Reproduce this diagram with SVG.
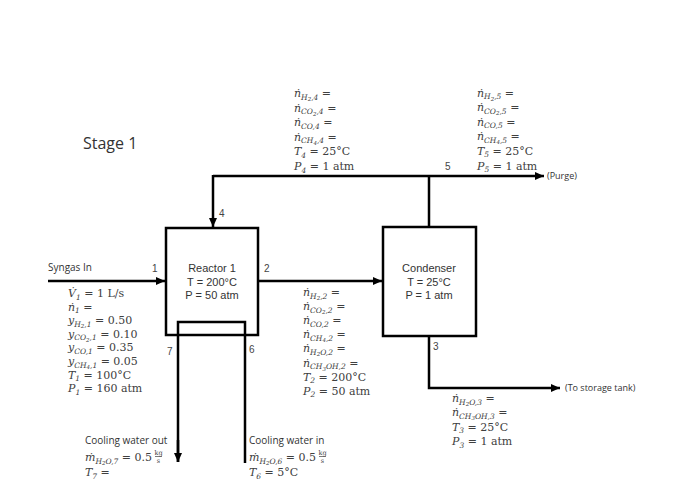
<svg xmlns="http://www.w3.org/2000/svg" width="696" height="499" viewBox="0 0 696 499">
<defs>
<style>
.ln{fill:none;stroke:#000;stroke-width:2.5}
.box{fill:#fff;stroke:#000;stroke-width:2.5}
.lbl{font-family:"Open Sans","Liberation Sans",sans-serif;font-size:10px;fill:#333}
.num{font-family:"Liberation Sans",sans-serif;font-size:10px;fill:#444}
.nt{font-family:"Liberation Sans",sans-serif;font-size:11px;fill:#333;text-anchor:middle}
.m{font-family:"DejaVu Serif",serif;font-size:11px;fill:#404040}
.i{font-style:italic}
.s{font-size:7.5px;font-style:italic}
.ss{font-size:5.5px;font-style:italic}
.fr{font-family:"DejaVu Serif",serif;font-size:6.5px;fill:#404040;text-anchor:middle}
.bar{stroke:#404040;stroke-width:0.7}
</style>
<marker id="ah" markerWidth="9" markerHeight="8" refX="9" refY="4" orient="auto" markerUnits="userSpaceOnUse">
<path d="M0,0 L9,4 L0,8 z" fill="#000"/>
</marker>
</defs>
<rect width="696" height="499" fill="#fff"/>

<text class="lbl" x="83" y="149" style="font-size:16px">Stage 1</text>

<g id="connectors">
<path class="ln" d="M48 281 H165" marker-end="url(#ah)"/>
<path class="ln" d="M258 281 H382" marker-end="url(#ah)"/>
<path class="ln" d="M213 176 H544" marker-end="url(#ah)"/>
<path class="ln" d="M213 175 V227" marker-end="url(#ah)"/>
<path class="ln" d="M429 176 V227"/>
<path class="ln" d="M429 336 V388 H560" marker-end="url(#ah)"/>
<path class="ln" d="M178 462 V322 H245 V463" />
<path class="ln" d="M178 440 V462" marker-end="url(#ah)"/>
<text class="num" x="152" y="272">1</text>
<text class="num" x="264" y="272">2</text>
<text class="num" x="219" y="217">4</text>
<text class="num" x="445" y="170">5</text>
<text class="num" x="433" y="350">3</text>
<text class="num" x="167" y="355">7</text>
<text class="num" x="249" y="353">6</text>
<text class="lbl" x="48" y="271">Syngas In</text>
<text class="lbl" x="547" y="179" style="font-size:9px">(Purge)</text>
<text class="lbl" x="565" y="391" style="font-size:9px">(To storage tank)</text>
</g>

<g id="reactor">
<rect class="box" x="166" y="228" width="92" height="107"/>
<path class="ln" d="M178 335 V322 H245 V335"/>
<text class="nt" x="212" y="272">Reactor 1</text>
<text class="nt" x="212" y="286">T = 200°C</text>
<text class="nt" x="212" y="299">P = 50 atm</text>
</g>

<g id="condenser">
<rect class="box" x="383" y="227" width="93" height="109"/>
<text class="nt" x="429" y="272">Condenser</text>
<text class="nt" x="429" y="286">T = 25°C</text>
<text class="nt" x="429" y="299">P = 1 atm</text>
</g>

<g id="stream4">
<text class="m" x="294" y="97"><tspan class="i">ṅ</tspan><tspan class="s" dy="2.5">H</tspan><tspan class="ss" dy="1.5">2</tspan><tspan class="s" dy="-1.5">,4</tspan><tspan dy="-2.5"> =</tspan></text>
<text class="m" x="294" y="111.6"><tspan class="i">ṅ</tspan><tspan class="s" dy="2.5">CO</tspan><tspan class="ss" dy="1.5">2</tspan><tspan class="s" dy="-1.5">,4</tspan><tspan dy="-2.5"> =</tspan></text>
<text class="m" x="294" y="126.2"><tspan class="i">ṅ</tspan><tspan class="s" dy="2.5">CO,4</tspan><tspan dy="-2.5"> =</tspan></text>
<text class="m" x="294" y="140.8"><tspan class="i">ṅ</tspan><tspan class="s" dy="2.5">CH</tspan><tspan class="ss" dy="1.5">4</tspan><tspan class="s" dy="-1.5">,4</tspan><tspan dy="-2.5"> =</tspan></text>
<text class="m" x="294" y="155.4"><tspan class="i">T</tspan><tspan class="s" dy="2.5">4</tspan><tspan dy="-2.5"> = 25°C</tspan></text>
<text class="m" x="294" y="170"><tspan class="i">P</tspan><tspan class="s" dy="2.5">4</tspan><tspan dy="-2.5"> = 1 atm</tspan></text>
</g>

<g id="stream5">
<text class="m" x="477" y="96.5"><tspan class="i">ṅ</tspan><tspan class="s" dy="2.5">H</tspan><tspan class="ss" dy="1.5">2</tspan><tspan class="s" dy="-1.5">,5</tspan><tspan dy="-2.5"> =</tspan></text>
<text class="m" x="477" y="111.1"><tspan class="i">ṅ</tspan><tspan class="s" dy="2.5">CO</tspan><tspan class="ss" dy="1.5">2</tspan><tspan class="s" dy="-1.5">,5</tspan><tspan dy="-2.5"> =</tspan></text>
<text class="m" x="477" y="125.7"><tspan class="i">ṅ</tspan><tspan class="s" dy="2.5">CO,5</tspan><tspan dy="-2.5"> =</tspan></text>
<text class="m" x="477" y="140.3"><tspan class="i">ṅ</tspan><tspan class="s" dy="2.5">CH</tspan><tspan class="ss" dy="1.5">4</tspan><tspan class="s" dy="-1.5">,5</tspan><tspan dy="-2.5"> =</tspan></text>
<text class="m" x="477" y="154.9"><tspan class="i">T</tspan><tspan class="s" dy="2.5">5</tspan><tspan dy="-2.5"> = 25°C</tspan></text>
<text class="m" x="477" y="169.5"><tspan class="i">P</tspan><tspan class="s" dy="2.5">5</tspan><tspan dy="-2.5"> = 1 atm</tspan></text>
</g>

<g id="stream1">
<text class="m" x="68" y="297"><tspan class="i">V̇</tspan><tspan class="s" dy="2.5">1</tspan><tspan dy="-2.5"> = 1 L/s</tspan></text>
<text class="m" x="68" y="310.6"><tspan class="i">ṅ</tspan><tspan class="s" dy="2.5">1</tspan><tspan dy="-2.5"> =</tspan></text>
<text class="m" x="68" y="324.2"><tspan class="i">y</tspan><tspan class="s" dy="2.5">H</tspan><tspan class="ss" dy="1.5">2</tspan><tspan class="s" dy="-1.5">,1</tspan><tspan dy="-2.5"> = 0.50</tspan></text>
<text class="m" x="68" y="337.8"><tspan class="i">y</tspan><tspan class="s" dy="2.5">CO</tspan><tspan class="ss" dy="1.5">2</tspan><tspan class="s" dy="-1.5">,1</tspan><tspan dy="-2.5"> = 0.10</tspan></text>
<text class="m" x="68" y="351.4"><tspan class="i">y</tspan><tspan class="s" dy="2.5">CO,1</tspan><tspan dy="-2.5"> = 0.35</tspan></text>
<text class="m" x="68" y="365"><tspan class="i">y</tspan><tspan class="s" dy="2.5">CH</tspan><tspan class="ss" dy="1.5">4</tspan><tspan class="s" dy="-1.5">,1</tspan><tspan dy="-2.5"> = 0.05</tspan></text>
<text class="m" x="68" y="378.6"><tspan class="i">T</tspan><tspan class="s" dy="2.5">1</tspan><tspan dy="-2.5"> = 100°C</tspan></text>
<text class="m" x="68" y="392.2"><tspan class="i">P</tspan><tspan class="s" dy="2.5">1</tspan><tspan dy="-2.5"> = 160 atm</tspan></text>
</g>

<g id="stream2">
<text class="m" x="303" y="296"><tspan class="i">ṅ</tspan><tspan class="s" dy="2.5">H</tspan><tspan class="ss" dy="1.5">2</tspan><tspan class="s" dy="-1.5">,2</tspan><tspan dy="-2.5"> =</tspan></text>
<text class="m" x="303" y="310.1"><tspan class="i">ṅ</tspan><tspan class="s" dy="2.5">CO</tspan><tspan class="ss" dy="1.5">2</tspan><tspan class="s" dy="-1.5">,2</tspan><tspan dy="-2.5"> =</tspan></text>
<text class="m" x="303" y="324.2"><tspan class="i">ṅ</tspan><tspan class="s" dy="2.5">CO,2</tspan><tspan dy="-2.5"> =</tspan></text>
<text class="m" x="303" y="338.3"><tspan class="i">ṅ</tspan><tspan class="s" dy="2.5">CH</tspan><tspan class="ss" dy="1.5">4</tspan><tspan class="s" dy="-1.5">,2</tspan><tspan dy="-2.5"> =</tspan></text>
<text class="m" x="303" y="352.4"><tspan class="i">ṅ</tspan><tspan class="s" dy="2.5">H</tspan><tspan class="ss" dy="1.5">2</tspan><tspan class="s" dy="-1.5">O,2</tspan><tspan dy="-2.5"> =</tspan></text>
<text class="m" x="303" y="366.5"><tspan class="i">ṅ</tspan><tspan class="s" dy="2.5">CH</tspan><tspan class="ss" dy="1.5">3</tspan><tspan class="s" dy="-1.5">OH,2</tspan><tspan dy="-2.5"> =</tspan></text>
<text class="m" x="303" y="380.6"><tspan class="i">T</tspan><tspan class="s" dy="2.5">2</tspan><tspan dy="-2.5"> = 200°C</tspan></text>
<text class="m" x="303" y="394.7"><tspan class="i">P</tspan><tspan class="s" dy="2.5">2</tspan><tspan dy="-2.5"> = 50 atm</tspan></text>
</g>

<g id="stream3">
<text class="m" x="452" y="402"><tspan class="i">ṅ</tspan><tspan class="s" dy="2.5">H</tspan><tspan class="ss" dy="1.5">2</tspan><tspan class="s" dy="-1.5">O,3</tspan><tspan dy="-2.5"> =</tspan></text>
<text class="m" x="452" y="416.3"><tspan class="i">ṅ</tspan><tspan class="s" dy="2.5">CH</tspan><tspan class="ss" dy="1.5">3</tspan><tspan class="s" dy="-1.5">OH,3</tspan><tspan dy="-2.5"> =</tspan></text>
<text class="m" x="452" y="430.6"><tspan class="i">T</tspan><tspan class="s" dy="2.5">3</tspan><tspan dy="-2.5"> = 25°C</tspan></text>
<text class="m" x="452" y="445"><tspan class="i">P</tspan><tspan class="s" dy="2.5">3</tspan><tspan dy="-2.5"> = 1 atm</tspan></text>
</g>

<g id="stream7">
<text class="lbl" x="85" y="444">Cooling water out</text>
<text class="m" x="85" y="461"><tspan class="i">ṁ</tspan><tspan class="s" dy="2.5">H</tspan><tspan class="ss" dy="1.5">2</tspan><tspan class="s" dy="-1.5">O,7</tspan><tspan dy="-2.5"> = 0.5</tspan></text>
<text class="fr" x="158.5" y="454.5">kg</text>
<line class="bar" x1="155" y1="456.5" x2="162" y2="456.5"/>
<text class="fr" x="158.5" y="462.5">s</text>
<text class="m" x="85" y="476"><tspan class="i">T</tspan><tspan class="s" dy="2.5">7</tspan><tspan dy="-2.5"> =</tspan></text>
</g>

<g id="stream6">
<text class="lbl" x="249" y="444">Cooling water in</text>
<text class="m" x="249" y="461"><tspan class="i">ṁ</tspan><tspan class="s" dy="2.5">H</tspan><tspan class="ss" dy="1.5">2</tspan><tspan class="s" dy="-1.5">O,6</tspan><tspan dy="-2.5"> = 0.5</tspan></text>
<text class="fr" x="322.5" y="454.5">kg</text>
<line class="bar" x1="319" y1="456.5" x2="326" y2="456.5"/>
<text class="fr" x="322.5" y="462.5">s</text>
<text class="m" x="249" y="476"><tspan class="i">T</tspan><tspan class="s" dy="2.5">6</tspan><tspan dy="-2.5"> = 5°C</tspan></text>
</g>
</svg>
